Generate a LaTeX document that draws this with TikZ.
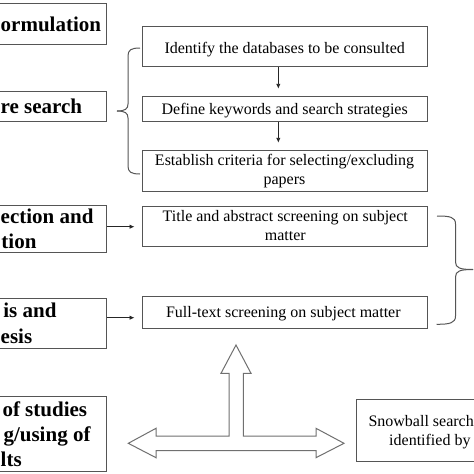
\documentclass[tikz,border=0pt]{standalone}
\usepackage{fontspec}
\setmainfont{Liberation Serif}
\usetikzlibrary{arrows.meta}
\definecolor{boxgray}{HTML}{555555}
\definecolor{arrgray}{HTML}{707070}
\newcommand\fsreg{\fontsize{16}{18.5}\selectfont}
\newcommand\fsbold{\bfseries\fontsize{21}{25}\selectfont}
\tikzset{
  box/.style={draw=boxgray, line width=1pt, rectangle, inner sep=0pt},
  lbox/.style={box, minimum width=126.7pt},
  rbox/.style={box, minimum width=284.5pt},
  rtxt/.style={font=\fsreg, inner sep=0pt, anchor=base},
  ltxt/.style={font=\fsbold, inner sep=0pt, anchor=base east},
  ltxtw/.style={font=\fsbold, inner sep=0pt, anchor=base west},
  arr/.style={draw=black!85, line width=0.9pt, -{Latex[length=5pt,width=4.5pt]}},
  bracepath/.style={draw=boxgray, line width=1pt},
  bigarrow/.style={draw=arrgray, line width=1pt, fill=white, line join=miter}
}
\begin{document}
\begin{tikzpicture}[x=1pt,y=-1pt]
\useasboundingbox (0,0) rectangle (474,474);
\clip (0,0) rectangle (474,474);
\fill[white] (0,0) rectangle (474,474);

% left boxes
\node[lbox, minimum height=41pt]   (L1) at (43.35,23.8) {};
\node[lbox, minimum height=29.3pt] (L2) at (43.35,106.35) {};
\node[lbox, minimum height=47.7pt] (L3) at (43.35,228.85) {};
\node[lbox, minimum height=50pt]   (L4) at (43.35,323.3) {};
\node[lbox, minimum height=75.7pt] (L5) at (43.35,433.85) {};

\node[ltxtw] (L1a) at (0.5,31.5) {ormulation};
\node[ltxtw] (L2a) at (0.5,113.3) {re search};
\node[ltxtw] (L3a) at (0.5,223.3) {ection and};
\node[ltxt]  (L3b) at (36.7,248.7) {tion};
\node[ltxt]  (L4a) at (56.7,317.3) {is and};
\node[ltxtw] (L4b) at (0.5,343.3) {esis};
\node[ltxt]  (L5a) at (87.3,416.7) {of studies};
\node[ltxt]  (L5b) at (90.7,441.7) {g/using of};
\node[ltxtw] (L5c) at (0.5,466.7) {lts};

% right boxes
\node[rbox, minimum height=40pt]   (A) at (284.75,46.7) {};
\node[rbox, minimum height=24.3pt] (B) at (284.75,108.85) {};
\node[rbox, minimum height=41pt]   (C) at (284.75,170.5) {};
\node[rbox, minimum height=40pt]   (D) at (284.75,226) {};
\node[rbox, minimum height=32pt]   (E) at (284.75,312.7) {};

\node[rtxt] (At) at (284.7,53.3) {Identify the databases to be consulted};
\node[rtxt] (Bt) at (284.7,114) {Define keywords and search strategies};
\node[rtxt] (Ct1) at (284.5,165.7) {Establish criteria for selecting/excluding};
\node[rtxt] (Ct2) at (284.5,184.2) {papers};
\node[rtxt] (Dt1) at (285.3,221.7) {Title and abstract screening on subject};
\node[rtxt] (Dt2) at (285.3,240.2) {matter};
\node[rtxt] (Et) at (283.3,317.3) {Full-text screening on subject matter};

% snowball box
\node[box, minimum width=133.3pt, minimum height=62.4pt] (S) at (423.35,430.5) {};
\node[rtxt, anchor=base west] (St1) at (368.3,426.5) {Snowball search};
\node[rtxt, anchor=base west] (St2) at (389,445) {identified by};

% connectors
\draw[arr, shorten >=7.4pt] ([xshift=-6.4pt]A.south) -- ([xshift=-6.4pt]B.north);
\draw[arr, shorten >=6.7pt] ([xshift=-6.4pt]B.south) -- ([xshift=-6.4pt]C.north);
\coordinate (y3) at (0,226.7);
\coordinate (y4) at (0,317.7);
\draw[arr, shorten >=7.5pt] (L3.east |- y3) -- (D.west |- y3);
\draw[arr, shorten >=7.5pt] (L4.east |- y4) -- (E.west |- y4);

% braces
\draw[bracepath] (140,48) .. controls (131,48) and (128,50) .. (128,56) -- (128,104)
   .. controls (128,109) and (125,111) .. (117,111);
\draw[bracepath] (117,111) .. controls (125,111) and (128,113) .. (128,118) -- (128,166)
   .. controls (128,172) and (131,174) .. (140,174);
\draw[bracepath] (437,216) .. controls (450,216) and (455.5,217) .. (455.5,224) -- (455.5,262)
   .. controls (455.5,268) and (460,269.5) .. (473,269.5);
\draw[bracepath] (473,269.5) .. controls (460,269.5) and (455.5,271) .. (455.5,277) -- (455.5,316)
   .. controls (455.5,323) and (450,324.3) .. (436.5,324.3);

% big three-way arrow
\draw[bigarrow] (236,345) -- (251,373.3) -- (243.3,373.3) -- (243.3,436) -- (316,436)
  -- (316,428.3) -- (344,443.3) -- (316,457.7) -- (316,450.7) -- (156,450.7)
  -- (156,457.7) -- (128.3,443.3) -- (156,428.3) -- (156,436) -- (229,436)
  -- (229,373.3) -- (221,373.3) -- cycle;
\end{tikzpicture}
\end{document}
